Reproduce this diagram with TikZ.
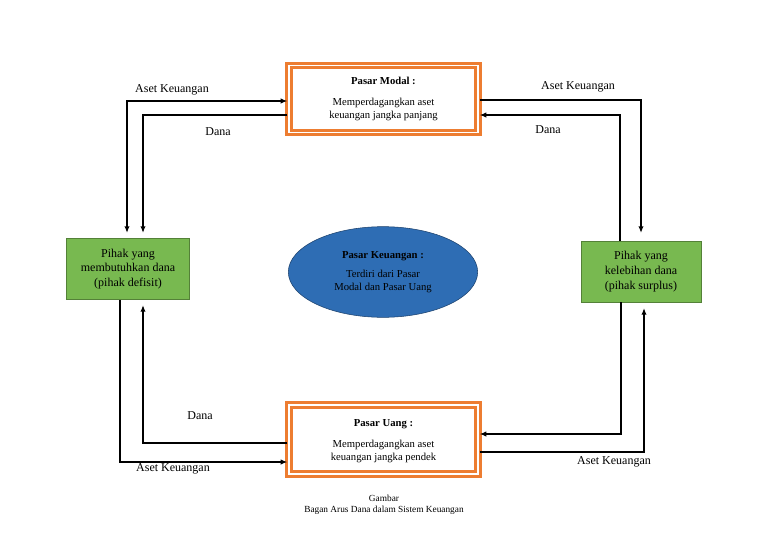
\documentclass[tikz,border=0pt]{standalone}
\usepackage{fontspec}
\setmainfont{Liberation Serif}
\usetikzlibrary{shapes.geometric,arrows.meta}
\definecolor{org}{RGB}{237,125,49}
\definecolor{grn}{RGB}{120,185,80}
\definecolor{blu}{RGB}{46,109,180}
\begin{document}
\begin{tikzpicture}[x=0.75pt,y=-0.75pt,
 mkt/.style={draw=org,line width=2.2pt,double=white,double distance=1.2pt,fill=white,inner sep=0pt},
 pihak/.style={draw=grn!70!black,fill=grn,font=\small,align=center,inner sep=0pt,minimum width=92pt,minimum height=46pt},
 ar/.style={-{Latex[length=5pt,width=4pt]},line width=1pt},
 lbl/.style={font=\small}]
\useasboundingbox (0,0) rectangle (768,543);
\node[mkt,minimum width=142pt,minimum height=50pt] (modal) at (383.5,99) {};
\node[font=\footnotesize,align=center] at (383.5,99) {\textbf{Pasar Modal :}\\[6pt]Memperdagangkan aset\\keuangan jangka panjang};
\node[mkt,minimum width=142pt,minimum height=52pt] (uang) at (383.5,439.5) {};
\node[font=\footnotesize,align=center] at (383.5,441) {\textbf{Pasar Uang :}\\[6pt]Memperdagangkan aset\\keuangan jangka pendek};
\node[pihak] (def) at (128,269) {Pihak yang\\membutuhkan dana\\(pihak defisit)};
\node[pihak,minimum width=90pt] (sur) at (641,271.5) {Pihak yang\\kelebihan dana\\(pihak surplus)};
\node[ellipse,draw=blu!60!black,fill=blu,minimum width=142pt,minimum height=68pt,font=\footnotesize,align=center] (pk) at (383,272) {\textbf{Pasar Keuangan :}\\[5pt]Terdiri dari Pasar\\Modal dan Pasar Uang};
% top-left
\coordinate (a1) at (127,101); \coordinate (a2) at (143,115);
\draw[ar,{Latex[length=5pt,width=4pt]}-{Latex[length=5pt,width=4pt]}] (127,233) -- (a1) -- (modal.west |- a1);
\draw[ar] (modal.west |- a2) -- (a2) -- (143,233);
\node[lbl] at (172,90) {Aset Keuangan};
\node[lbl] at (218,132) {Dana};
% top-right
\coordinate (b1) at (641,100); \coordinate (b2) at (620,115);
\draw[ar] (modal.east |- b1) -- (b1) -- (641,233);
\draw[ar] (sur.north -| b2) -- (b2) -- (modal.east |- b2);
\node[lbl] at (578,87) {Aset Keuangan};
\node[lbl] at (548,130) {Dana};
% bottom-right
\coordinate (c1) at (621,434); \coordinate (c2) at (644,452);
\draw[ar] (sur.south -| c1) -- (c1) -- (uang.east |- c1);
\draw[ar] (uang.east |- c2) -- (c2) -- (644,308);
\node[lbl] at (614,462) {Aset Keuangan};
% bottom-left
\coordinate (d1) at (143,443); \coordinate (d2) at (120,462);
\draw[ar] (uang.west |- d1) -- (d1) -- (143,305);
\draw[ar] (def.south -| d2) -- (d2) -- (uang.west |- d2);
\node[lbl] at (200,416) {Dana};
\node[lbl] at (173,469) {Aset Keuangan};
\node[font=\scriptsize,align=center] at (384,505) {Gambar\\Bagan Arus Dana dalam Sistem Keuangan};
\end{tikzpicture}
\end{document}
